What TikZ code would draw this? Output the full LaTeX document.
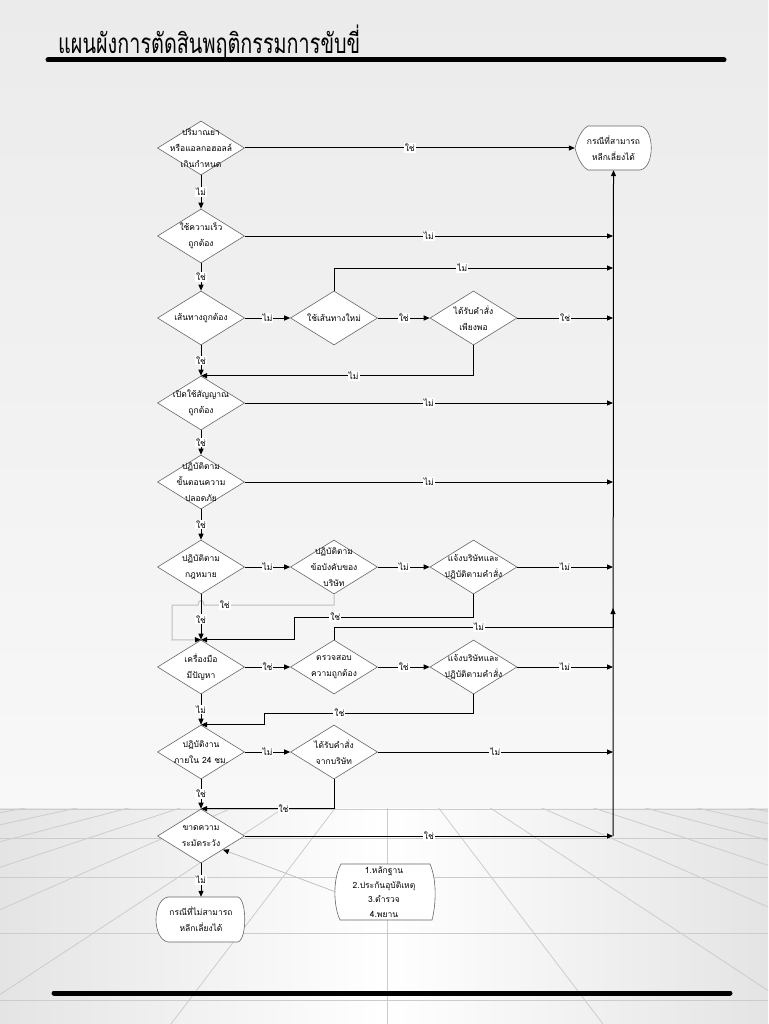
\documentclass[tikz,border=0pt]{standalone}
\usepackage{fontspec}
\newfontfamily\thai[Script=Thai]{Loma}
\usetikzlibrary{shapes.geometric,arrows.meta,calc}
\definecolor{wallTop}{HTML}{EBEBEB}
\definecolor{wallBot}{HTML}{F8F8F8}
\definecolor{floorSide}{HTML}{E4E4E4}
\tikzset{
  dia/.style={diamond, draw=black!60, line width=0.6pt, fill=white, minimum width=87pt, minimum height=54pt, inner sep=0pt},
  txt/.style={font=\thai\fontsize{8.5}{16}\selectfont, align=center, inner sep=0pt},
  lbl/.style={font=\thai\fontsize{8.5}{9}\selectfont, fill=white, inner sep=1pt},
  arr/.style={line width=1pt, -{Triangle[length=6pt,width=5pt]}},
  grayln/.style={draw=gray!50, line width=1pt, -{Triangle[length=6pt,width=5pt,black]}},
  floorline/.style={draw=gray!40, line width=0.8pt},
  shp/.style={draw=black!60, line width=0.6pt, fill=white},
  boxnode/.style={draw=none, inner sep=0pt},
}
\begin{document}
\begin{tikzpicture}[x=1pt,y=-1pt]
\useasboundingbox (0,0) rectangle (768,1024);
% background wall and floor
\shade[top color=wallTop, bottom color=wallBot] (0,0) rectangle (768,808);
\shade[left color=floorSide, right color=floorSide, middle color=white] (0,808) rectangle (768,1024);
\begin{scope}
  \clip (0,808) rectangle (768,1024);
  \foreach \k in {-8,...,8} \draw[floorline] (387,740) -- ({387+\k*216},1024);
\end{scope}
\foreach \yy in {809,838,877,933,1000} \draw[floorline] (0,\yy) -- (768,\yy);

% title and rules
\node[anchor=base west, inner sep=0pt] (title) at (58,54)
  {\resizebox{302pt}{!}{\scalebox{1}[1.4]{\thai แผนผังการตัดสินพฤติกรรมการขับขี่}}};
\draw[line width=5pt, line cap=round] (48,60) -- (724,60);
\draw[line width=5pt, line cap=round] (54,993) -- (730,993);

% diamonds
\node[dia] (d1) at (201,148) {};
\node[dia] (d2) at (201,236) {};
\node[dia] (d3) at (201,318) {};
\node[dia] (d3b) at (334,318) {};
\node[dia] (d3c) at (473.5,318) {};
\node[dia] (d4) at (201,403) {};
\node[dia] (d5) at (201,482) {};
\node[dia] (d6) at (201,567) {};
\node[dia] (d6b) at (334,567) {};
\node[dia] (d6c) at (473.5,567) {};
\node[dia] (d7) at (201,667) {};
\node[dia] (d7b) at (334,667) {};
\node[dia] (d7c) at (473.5,667) {};
\node[dia] (d8) at (201,752) {};
\node[dia] (d8b) at (334,752) {};
\node[dia] (d9) at (201,836) {};

\node[txt] (d1t) at (d1) {ปริมาณยา\\หรือแอลกอฮอลล์\\เกินกำหนด};
\node[txt] (d2t) at (d2) {ใช้ความเร็ว\\ถูกต้อง};
\node[txt] (d3t) at (d3) {เส้นทางถูกต้อง};
\node[txt] (d3bt) at (d3b) {ใช้เส้นทางใหม่};
\node[txt] (d3ct) at (d3c) {ได้รับคำสั่ง\\เพียงพอ};
\node[txt] (d4t) at (d4) {เปิดใช้สัญญาณ\\ถูกต้อง};
\node[txt] (d5t) at (d5) {ปฏิบัติตาม\\ขั้นตอนความ\\ปลอดภัย};
\node[txt] (d6t) at (d6) {ปฏิบัติตาม\\กฎหมาย};
\node[txt] (d6bt) at (d6b) {ปฏิบัติตาม\\ข้อบังคับของ\\บริษัท};
\node[txt] (d6ct) at (d6c) {แจ้งบริษัทและ\\ปฏิบัติตามคำสั่ง};
\node[txt] (d7t) at (d7) {เครื่องมือ\\มีปัญหา};
\node[txt] (d7bt) at (d7b) {ตรวจสอบ\\ความถูกต้อง};
\node[txt] (d7ct) at (d7c) {แจ้งบริษัทและ\\ปฏิบัติตามคำสั่ง};
\node[txt] (d8t) at (d8) {ปฏิบัติงาน\\ภายใน 24 ชม.};
\node[txt] (d8bt) at (d8b) {ได้รับคำสั่ง\\จากบริษัท};
\node[txt] (d9t) at (d9) {ขาดความ\\ระมัดระวัง};

% terminators
\draw[shp] (588,126) -- (640,126) .. controls (655,128) and (655,168) .. (640,170) -- (588,170)
  .. controls (581,166) and (577,156) .. (575,148) .. controls (577,140) and (581,130) .. (588,126) -- cycle;
\node[boxnode, minimum width=77pt, minimum height=44pt] (t1) at (613.5,148) {};
\node[txt] (t1t) at (t1) {กรณีที่สามารถ\\หลีกเลี่ยงได้};

\draw[shp] (168,897) -- (238,897) .. controls (247,900) and (247,939) .. (238,942) -- (168,942)
  .. controls (152,939) and (152,900) .. (168,897) -- cycle;
\node[boxnode, minimum width=91pt, minimum height=45pt] (t2) at (201,919.5) {};
\node[txt] (t2t) at (t2) {กรณีที่ไม่สามารถ\\หลีกเลี่ยงได้};

% note box
\draw[shp] (341,864) -- (430,864) .. controls (437,880) and (436,905) .. (432,920) -- (340,920)
  .. controls (333,905) and (333,878) .. (341,864) -- cycle;
\node[boxnode, minimum width=96pt, minimum height=56pt] (n1) at (384,892) {};
\node[txt, font=\thai\fontsize{8.5}{14.5}\selectfont] (n1t) at (n1) {1.หลักฐาน\\2.ประกันอุบัติเหตุ\\3.ตำรวจ\\4.พยาน};

% column coordinate
\coordinate (col) at (613,836);

% connectors
\draw[arr] (d1.east) -- node[lbl]{ใช่} (t1.west);
\draw[arr] (d1.south) -- node[lbl]{ไม่} (d2.north);
\draw[arr] (d2.east) -- node[lbl]{ไม่} (d2.east -| col);
\draw[arr] (d2.south) -- node[lbl]{ใช่} (d3.north);
\draw[arr] (d3.east) -- node[lbl]{ไม่} (d3b.west);
\draw[arr] (d3b.east) -- node[lbl]{ใช่} (d3c.west);
\draw[arr] (d3c.east) -- node[lbl]{ใช่} (d3c.east -| col);
\draw[arr] (d3b.north) |- node[lbl,pos=0.73]{ไม่} (613,268);
\draw[arr] (d3c.south) |- node[lbl,pos=0.72]{ไม่} (d4.north);
\draw[arr] (d3.south) -- node[lbl]{ใช่} (d4.north);
\draw[arr] (d4.east) -- node[lbl]{ไม่} (d4.east -| col);
\draw[arr] (d4.south) -- node[lbl]{ใช่} (d5.north);
\draw[arr] (d5.east) -- node[lbl]{ไม่} (d5.east -| col);
\draw[arr] (d5.south) -- node[lbl]{ใช่} (d6.north);
\draw[arr] (d6.east) -- node[lbl]{ไม่} (d6b.west);
\draw[arr] (d6b.east) -- node[lbl]{ไม่} (d6c.west);
\draw[arr] (d6c.east) -- node[lbl]{ไม่} (d6c.east -| col);
\draw[grayln] (d6b.south) -- (334,605) -- node[lbl,pos=0.84]{ใช่} (204,605)
  .. controls (204,599) and (198,599) .. (198,605) -- (172,605) -- (172,640) -- (d7.north);
\draw[arr] (d6.south) -- node[lbl,pos=0.55]{ใช่} (d7.north);
\draw[arr] (d6c.south) |- node[lbl,pos=0.885]{ใช่} (294,617) |- (d7.north);
\draw[arr] (d7b.north) |- node[lbl,pos=0.76]{ไม่} (613,627) -- (613,608);
\draw[arr] (d7.east) -- node[lbl]{ใช่} (d7b.west);
\draw[arr] (d7b.east) -- node[lbl]{ใช่} (d7c.west);
\draw[arr] (d7c.east) -- node[lbl]{ไม่} (d7c.east -| col);
\draw[arr] (d7.south) -- node[lbl]{ไม่} (d8.north);
\draw[arr] (d7c.south) |- node[lbl,pos=0.82]{ใช่} (264,713) |- (d8.north);
\draw[arr] (d8.east) -- node[lbl]{ไม่} (d8b.west);
\draw[arr] (d8b.east) -- node[lbl]{ไม่} (d8b.east -| col);
\draw[arr] (d8.south) -- node[lbl]{ใช่} (d9.north);
\draw[arr] (d8b.south) |- node[lbl,pos=0.69]{ใช่} (d9.north);
\draw[arr] (d9.east) -- node[lbl]{ใช่} (col);
\draw[arr] (col) -- (t1.south);
\draw[arr] (d9.south) -- node[lbl]{ไม่} (t2.north);
\draw[draw=gray!60, line width=0.6pt, -{Triangle[length=6pt,width=5pt,black]}] (n1.west) -- (d9.south east);
\end{tikzpicture}
\end{document}
